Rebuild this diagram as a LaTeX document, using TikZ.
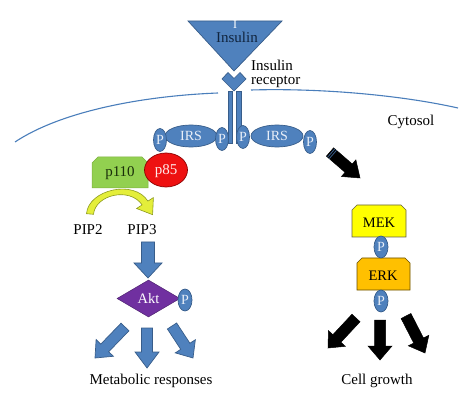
\documentclass[tikz,border=0pt]{standalone}
\usepackage{fontspec}
\setmainfont{Liberation Serif}
\usetikzlibrary{calc,shapes.geometric}
\definecolor{bfill}{HTML}{4F81BD}
\definecolor{bline}{HTML}{385D8A}
\definecolor{mem}{HTML}{4A7EBB}
\definecolor{aktc}{HTML}{7030A0}
\definecolor{pred}{HTML}{EE1111}
\definecolor{pline}{HTML}{8B0000}
\definecolor{gfill}{HTML}{92D050}
\definecolor{gline}{HTML}{7FB040}
\definecolor{mekc}{HTML}{FFFF00}
\definecolor{erkc}{HTML}{FFC000}
\definecolor{yarrow}{HTML}{E4EE3A}
\definecolor{yline}{HTML}{8C9A1E}
\definecolor{navy}{HTML}{10243E}
\definecolor{pwhite}{HTML}{E8EEF8}
\definecolor{dgreen}{HTML}{1A2E0A}
\newcommand\blockarr[6]{%
  \coordinate (bah) at ($(#3)!#6pt!(#2)$);
  \draw[#1] ($(#2)!#4pt!90:(#3)$) -- ($(bah)!#4pt!90:(#3)$) -- ($(bah)!#5pt!90:(#3)$) -- (#3)
    -- ($(bah)!#5pt!-90:(#3)$) -- ($(bah)!#4pt!-90:(#3)$) -- ($(#2)!#4pt!-90:(#3)$) -- cycle;
}
\tikzset{
  bluesh/.style={fill=bfill, draw=bline, line width=0.7pt},
  pst/.style={ellipse, bluesh, minimum width=13pt, minimum height=23pt, inner sep=0pt, text=pwhite, font=\fontsize{14}{16}\selectfont},
  irsst/.style={ellipse, bluesh, minimum width=52pt, minimum height=22pt, inner sep=0pt, text=pwhite, font=\fontsize{14}{16}\selectfont},
  blk/.style={fill=black, draw=black, line width=0.5pt, line join=miter},
  barr/.style={bluesh, line join=miter},
  lbl/.style={anchor=base, inner sep=0pt},
  memline/.style={mem, line width=1.1pt},
}
\begin{document}
\begin{tikzpicture}[x=1pt, y=-1pt, font=\fontsize{15}{17}\selectfont]
\useasboundingbox (0,0) rectangle (474,406);
% membrane
\draw[memline] (15,142) .. controls (60,112) and (140,96) .. (218,93);
\draw[memline] (251,90) .. controls (320,88) and (400,95) .. (458,108);
% insulin
\draw[bluesh] (188,21) -- (282,21) -- (234,71) -- cycle;
\node[lbl, text=white, font=\fontsize{12}{13}\selectfont] (insI) at (235,29) {I};
\node[lbl, text=navy] (insulin) at (237,42.5) {Insulin};
% receptor
\draw[bluesh] (234,91) -- (222,79) -- (228,72.5) -- (234,78.5) -- (240,72.5) -- (246,79) -- cycle;
\draw[bluesh] (228,91) rectangle (232.5,143);
\draw[bluesh] (236.5,91) rectangle (241,143);
\node[anchor=base west, inner sep=0pt] (rec1) at (251,70.5) {Insulin};
\node[anchor=base west, inner sep=0pt] (rec2) at (251,84.5) {receptor};
\node[lbl] (cyto) at (411,126) {Cytosol};
% p110 and p85
\draw[fill=gfill, draw=gline, line width=0.5pt] (92,188) -- (92,163) -- (98,157) -- (142,157) -- (148,163) -- (148,188) -- cycle;
\node[lbl, text=dgreen] (p110) at (120,177) {p110};
\node[ellipse, fill=pred, draw=pline, line width=0.7pt, minimum width=43pt, minimum height=34pt, inner sep=0pt] (p85) at (166,170) {};
\node[lbl, text=white!92!red] (p85t) at (166,175) {p85};
% IRS
\node[irsst] (irs1) at (191,136) {IRS};
\node[irsst] (irs2) at (277,136) {IRS};
\node[pst] (pa) at (160,140) {P};
\node[pst] (pb) at (222,139) {P};
\node[pst] (pc) at (243,137) {P};
\node[pst] (pd) at (310,142) {P};
% yellow curved arrow
\draw[fill=yarrow, draw=yline, line width=0.6pt, line join=miter]
  (86.5,213.7) .. controls (88.5,189.5) and (134.1,179.2) .. (147.9,201.1)
  -- (153.4,197.6) -- (152.6,214.7) -- (136.6,208.5) -- (142.1,204.9)
  .. controls (129.9,186.8) and (95.5,194.5) .. (93.5,214.3) -- cycle;
\node[lbl] (pip2) at (88,235) {PIP2};
\node[lbl] (pip3) at (142,235) {PIP3};
% PIP3 -> Akt
\coordinate (a1t) at (148,242); \coordinate (a1h) at (148,278);
\blockarr{barr}{a1t}{a1h}{6.5}{14}{15}
\node[diamond, fill=aktc, draw=aktc!70!black, line width=0.5pt, minimum width=63pt, minimum height=37pt, inner sep=0pt, text=white, font=\fontsize{14.5}{16}\selectfont] (akt) at (148.5,298.5) {Akt};
\node[pst, minimum width=14pt, minimum height=22pt] (pakt) at (185,300) {P};
% Akt outputs
\coordinate (b1t) at (125,327); \coordinate (b1h) at (95,358);
\coordinate (b2t) at (147,328); \coordinate (b2h) at (147,368);
\coordinate (b3t) at (172,326); \coordinate (b3h) at (193,358);
\blockarr{barr}{b1t}{b1h}{5.5}{12}{14}
\blockarr{barr}{b2t}{b2h}{5.5}{12}{16}
\blockarr{barr}{b3t}{b3h}{5.5}{12}{14}
\node[lbl] (metab) at (151,384) {Metabolic responses};
% black arrow to MAPK
\coordinate (c0t) at (330,152); \coordinate (c0h) at (360,178);
\blockarr{blk}{c0t}{c0h}{5.5}{11}{15}
\coordinate (s1) at ($(c0t)!1.6pt!(c0h)$);
\coordinate (s2) at ($(c0t)!3.8pt!(c0h)$);
\draw[bline, line width=0.8pt] ($(s1)!5.5pt!90:(c0h)$) -- ($(s1)!5.5pt!-90:(c0h)$);
\draw[bline, line width=0.8pt] ($(s2)!5.5pt!90:(c0h)$) -- ($(s2)!5.5pt!-90:(c0h)$);
% MEK / ERK
\draw[fill=mekc, draw=black!70!yellow, line width=0.6pt] (352,237) -- (352,210) -- (357,205) -- (401,205) -- (406,210) -- (406,237) -- cycle;
\node[lbl, font=\fontsize{14.5}{16}\selectfont] (mek) at (379,228) {MEK};
\draw[fill=erkc, draw=black!60!erkc, line width=0.6pt] (357,290) -- (357,263) -- (362,258) -- (405,258) -- (410,263) -- (410,290) -- cycle;
\node[lbl, font=\fontsize{14.5}{16}\selectfont] (erk) at (383,280) {ERK};
\node[pst, minimum width=14pt, minimum height=22pt] (pmek) at (381,247) {P};
\node[pst, minimum width=14pt, minimum height=22pt] (perk) at (381,301) {P};
% ERK outputs
\coordinate (d1t) at (356,318); \coordinate (d1h) at (328,348);
\coordinate (d2t) at (380,320); \coordinate (d2h) at (380,360);
\coordinate (d3t) at (406,316); \coordinate (d3h) at (425,353);
\blockarr{blk}{d1t}{d1h}{5.5}{11.5}{13}
\blockarr{blk}{d2t}{d2h}{5.5}{12}{14}
\blockarr{blk}{d3t}{d3h}{5.5}{11.5}{14}
\node[lbl] (cellg) at (377,384) {Cell growth};
\end{tikzpicture}
\end{document}
